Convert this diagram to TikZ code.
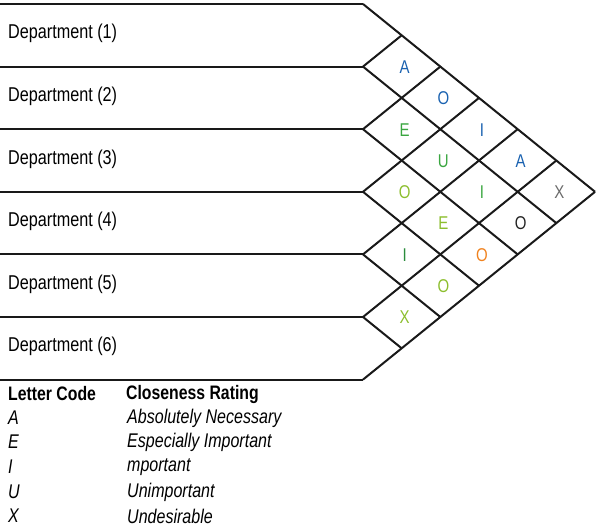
\documentclass[tikz,border=0pt]{standalone}
\usepackage{fontspec}
\setmainfont[FakeStretch=0.81]{Liberation Sans}
\definecolor{cblue}{HTML}{1A62B0}
\definecolor{cgreen}{HTML}{3AA640}
\definecolor{clgreen}{HTML}{8CBE2E}
\definecolor{cdgreen}{HTML}{2A8C3C}
\definecolor{cgray}{HTML}{6A6A6A}
\definecolor{corange}{HTML}{F0821E}
\definecolor{cblack}{HTML}{222222}
\begin{document}
\begin{tikzpicture}[x=1pt,y=-1pt,
  grid/.style={line width=2pt,black!90},
  dept/.style={anchor=west,inner sep=0pt,font=\fontsize{20}{24}\selectfont},
  code/.style={inner sep=0pt,font=\fontsize{18.5}{22}\selectfont},
  leg/.style={anchor=west,inner sep=0pt,font=\fontsize{19.8}{23}\selectfont\itshape},
  legh/.style={anchor=west,inner sep=0pt,font=\fontsize{19.5}{23}\selectfont\bfseries}]
\useasboundingbox (0,0) rectangle (599,526);
\def\xo{363}\def\hh{62.6}\def\ys{4}\def\dx{38.67}
% boundary coordinates
\foreach \k in {0,...,6}{
  \coordinate (L\k) at (0,{\ys+\k*\hh});
  \coordinate (R\k) at (\xo,{\ys+\k*\hh});
}
% horizontal lines
\foreach \k in {0,...,6}{ \draw[grid] (L\k) -- (R\k); }
% down-right lines
\foreach \i in {0,...,5}{
  \coordinate (D\i) at ({\xo+(6-\i)*\dx},{\ys+(\i+6)*\hh/2});
  \draw[grid] (R\i) -- (D\i);
}
% up-right lines
\foreach \k in {1,...,6}{
  \coordinate (U\k) at ({\xo+\k*\dx},{\ys+\k*\hh/2});
  \draw[grid] (R\k) -- (U\k);
}
% department labels
\foreach \k in {1,...,6}{
  \node[dept] (d\k) at (8,{\ys+(\k-0.5)*\hh-1.5}) {Department (\k)};
}
% closeness codes
\newcommand\relcode[4]{\node[code,text=#3] (c#1#2) at ({\xo+(#2-#1)*\dx+3},{\ys+(#1+#2-1)*\hh/2+0.5}) {#4};}
\relcode{1}{2}{cblue}{A}
\relcode{1}{3}{cblue}{O}
\relcode{1}{4}{cblue}{I}
\relcode{1}{5}{cblue}{A}
\relcode{1}{6}{cgray}{X}
\relcode{2}{3}{cgreen}{E}
\relcode{2}{4}{cgreen}{U}
\relcode{2}{5}{cgreen}{I}
\relcode{2}{6}{cblack}{O}
\relcode{3}{4}{clgreen}{O}
\relcode{3}{5}{clgreen}{E}
\relcode{3}{6}{corange}{O}
\relcode{4}{5}{cdgreen}{I}
\relcode{4}{6}{clgreen}{O}
\relcode{5}{6}{clgreen}{X}
% legend
\node[legh] (lh1) at (8,394) {Letter Code};
\node[legh] (lh2) at (126,394) {Closeness Rating};
\node[leg] (la) at (8,418) {A};   \node[leg] (ta) at (127,418) {Absolutely Necessary};
\node[leg] (le) at (8,442) {E};   \node[leg] (te) at (127,442) {Especially Important};
\node[leg] (li) at (8,467) {I};   \node[leg] (ti) at (127,467) {mportant};
\node[leg] (lu) at (8,492) {U};   \node[leg] (tu) at (127,492) {Unimportant};
\node[leg] (lx) at (8,516) {X};   \node[leg] (tx) at (127,516) {Undesirable};
\end{tikzpicture}
\end{document}
